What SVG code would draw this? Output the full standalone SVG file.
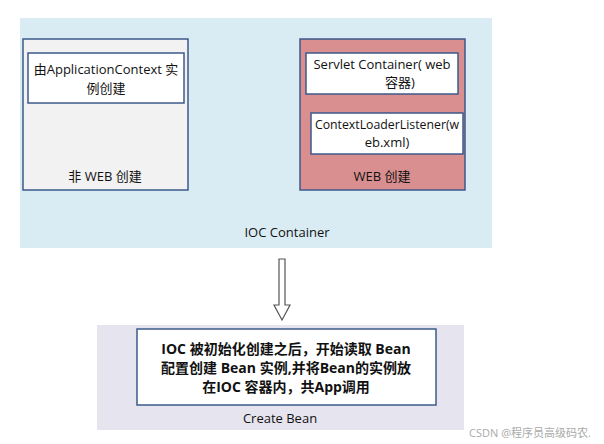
<svg xmlns="http://www.w3.org/2000/svg" width="604" height="444" viewBox="0 0 604 444">
<style>
text{font-family:"Open Sans","Noto Sans CJK SC",sans-serif;font-size:13px;fill:#111;text-anchor:middle}
.w{fill:#fff;stroke:#3c5a8a;stroke-width:1.5}
.b{font-weight:bold;font-size:14px}
</style>
<rect width="604" height="444" fill="#fff"/>
<g id="ioc"><rect x="20" y="18" width="472" height="230" fill="#daecf3"/><text x="287" y="237">IOC Container</text></g>
<g id="nonweb"><rect x="23" y="39" width="165" height="151" fill="#f2f2f2" stroke="#3c5a8a" stroke-width="1.5"/>
<text x="105" y="181">非 WEB 创建</text></g>
<g id="appctx"><rect class="w" x="28" y="53" width="156" height="50"/><text x="106" y="74">由ApplicationContext 实</text><text x="106" y="93">例创建</text></g>
<g id="web"><rect x="300" y="39" width="165" height="151" fill="#d98f8f" stroke="#3c5a8a" stroke-width="1.5"/><text x="382" y="181">WEB 创建</text></g>
<g id="servlet"><rect class="w" x="306" y="53" width="152" height="41"/><text x="382" y="69">Servlet Container( web</text><text x="400" y="87">容器)</text></g>
<g id="ctxloader"><rect class="w" x="311" y="113" width="152" height="41"/><text x="387" y="129" style="font-size:12.3px">ContextLoaderListener(w</text><text x="387" y="147">eb.xml)</text></g>
<g id="connectors"><path d="M279 259H285V305H290L282 320L274 305H279Z" fill="#fff" stroke="#555" stroke-width="1.2"/></g>
<g id="create"><rect x="97" y="325" width="367" height="105" fill="#e6e4ee"/><rect class="w" x="137" y="329" width="299" height="76"/>
<text class="b" x="286" y="354">IOC 被初始化创建之后，开始读取 Bean</text>
<text class="b" x="286" y="373">配置创建 Bean 实例,并将Bean的实例放</text>
<text class="b" x="286" y="392">在IOC 容器内，共App调用</text>
<text x="280" y="423">Create Bean</text></g>
<text x="530" y="437" style="font-size:11px;fill:#aaa">CSDN @程序员高级码农.</text>
</svg>
